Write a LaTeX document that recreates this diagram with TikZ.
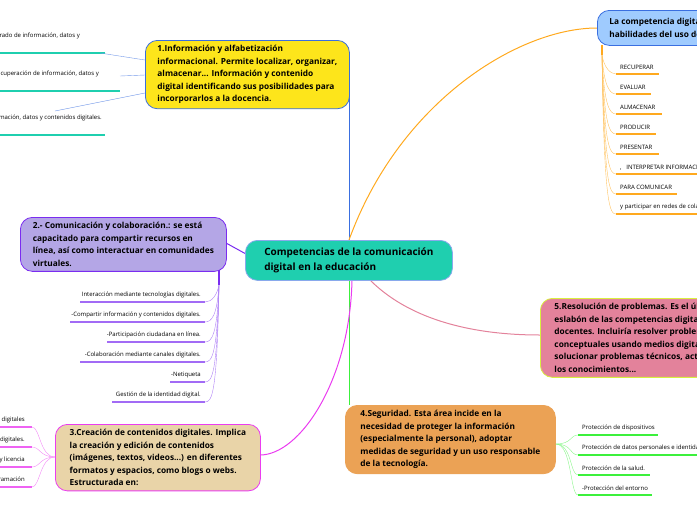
\documentclass[tikz,border=0pt]{standalone}
\usepackage{fontspec}
\setmainfont{Open Sans}
\begin{document}
\begin{tikzpicture}[x=1pt,y=-1pt,
  box/.style={rounded corners=12pt,draw,line width=0.8pt,align=left,font=\bfseries\fontsize{8.3}{12.5}\selectfont,inner xsep=12pt,inner ysep=5pt,anchor=north west},
  leaf/.style={font=\fontsize{6}{7}\selectfont,inner sep=1pt},
  ul/.style={line width=1.2pt}]
\useasboundingbox (0,0) rectangle (697,520);
\clip (0,0) rectangle (697,520);
\definecolor{cteal}{HTML}{1FCFAF}
\definecolor{cyel}{HTML}{FDE51B}
\definecolor{cblue}{HTML}{9FCBFE}
\definecolor{cpur}{HTML}{B4A6E6}
\definecolor{ctan}{HTML}{E9D4A8}
\definecolor{corg}{HTML}{EBA255}
\definecolor{cpink}{HTML}{E3829B}
\definecolor{lblue}{HTML}{3A6FE0}
\definecolor{lorg}{HTML}{FFA91E}
\definecolor{lpur}{HTML}{7A2CF0}
\definecolor{lmag}{HTML}{EA3CF0}
\definecolor{lgrn}{HTML}{3CF03C}
\definecolor{lyg}{HTML}{D8F040}

% main branches
\coordinate (ct) at (349,240); \coordinate (cb) at (349,280);
\draw[lblue,line width=1pt] (ct) -- (349,70);
\draw[lorg,line width=1pt] (ct) .. controls (400,100) and (520,28) .. (597,28);
\draw[cpink,line width=1pt] (370,280) .. controls (420,330) and (500,335) .. (540,335);
\draw[lgrn,line width=1pt] (cb) -- (349,405);
\draw[lmag,line width=1pt] (352,280) .. controls (350,380) and (300,455) .. (260,455);
\draw[lpur,line width=1pt] (246,254) -- (226,243);

\node[box,fill=cteal,draw=lblue!60,minimum width=207pt,minimum height=40pt,font=\bfseries\fontsize{10}{15}\selectfont] (c) at (245,240) {Competencias de la comunicación\\digital en la educación};
\node[box,fill=cyel,draw=lblue,minimum width=204pt,minimum height=65pt] (b1) at (145,40) {1.Información y alfabetización\\informacional. Permite localizar, organizar,\\almacenar... Información y contenido\\digital identificando sus posibilidades para\\incorporarlos a la docencia.};
\node[box,fill=cblue,draw=lblue,minimum height=35pt,text depth=0pt] (b0) at (597,10) {La competencia digital son las\\habilidades del uso de la tecnología};
\node[box,fill=cpur,draw=lpur,minimum width=206pt,minimum height=53pt] (b2) at (20,217) {2.- Comunicación y colaboración.: se está\\capacitado para compartir recursos en\\línea, así como interactuar en comunidades\\virtuales.};
\node[box,fill=ctan,draw=lmag,minimum width=205pt,minimum height=64pt] (b3) at (55,424) {3.Creación de contenidos digitales. Implica\\la creación y edición de contenidos\\(imágenes, textos, videos...) en diferentes\\formatos y espacios, como blogs o webs.\\Estructurada en:};
\node[box,fill=corg,draw=corg,minimum width=210pt,minimum height=65pt] (b4) at (345,405) {4.Seguridad. Esta área incide en la\\necesidad de proteger la información\\(especialmente la personal), adoptar\\medidas de seguridad y un uso responsable\\de la tecnología.};
\node[box,fill=cpink,draw=lyg,minimum width=200pt,minimum height=77pt] (b5) at (540,298) {5.Resolución de problemas. Es el último\\eslabón de las competencias digitales\\docentes. Incluiría resolver problemas\\conceptuales usando medios digitales,\\solucionar problemas técnicos, actualizar\\los conocimientos...};

% box1 leaves
\foreach \n/\t/\ex/\y/\ux in {
 a/{Navegación, búsqueda y filtrado de información, datos y}/81/36/105,
 b/{Almacenamiento y recuperación de información, datos y}/100/74/120,
 c/{Evaluación de información, datos y contenidos digitales.}/103/118/105}{
  \node[leaf,anchor=east] (l1\n) at (\ex,\y) {\t};
  \draw[cteal,ul] (0,\y+17) -- (\ux,\y+17);
}
\draw[lblue!70] (b1.west |- 0,60) -- (100,53);
\draw[lblue!70] (b1.west |- 0,75) -- (120,76);
\draw[lblue!70] (b1.west |- 0,93) -- (55,111);

% top-right leaves
\coordinate (tr) at (602,45);
\draw[lorg,line width=1.5pt] (tr) -- (602,55);
\foreach \t/\y/\w [count=\i] in {RECUPERAR/67/40, EVALUAR/87/32, ALMACENAR/107/43, PRODUCIR/127/37, PRESENTAR/147/40, {,\ \ \ INTERPRETAR INFORMACIÓN}/167/90, PARA COMUNICAR/187/58, y participar en redes de colaboración/207/100}{
  \node[leaf,anchor=west] (tl\i) at (619,\y) {\t};
  \draw[lorg,ul] (616,\y+7) -- (619+\w,\y+7);
  \draw[lorg!70] (602,55) .. controls (604,\y) and (610,\y+7) .. (616,\y+7);
}

% box2 leaves
\draw[lpur,line width=1.5pt] (219,270) -- (219,285);
\foreach \t/\y/\w [count=\i] in {{Interacción mediante tecnologías digitales.}/295/125, {-Compartir información y contenidos digitales.}/315/135, {-Participación ciudadana en línea.}/335/98, {-Colaboración mediante canales digitales.}/355/125, {-Netiqueta}/375/35, {Gestión de la identidad digital.}/395/93}{
  \node[leaf,anchor=east] (pl\i) at (202,\y) {\t};
  \draw[lpur!70,ul] (205-\w,\y+7) -- (205,\y+7);
  \draw[lpur!60] (219,285) .. controls (217,\y) and (212,\y+7) .. (205,\y+7);
}

% box3 leaves
\foreach \t/\y [count=\i] in {{Desarrollo de contenidos digitales}/420, {Integración y reelaboración de contenidos digitales.}/440, {Derechos de autor y licencia}/460, {Programación}/480}{
  \node[leaf,anchor=east] (ml\i) at (26,\y) {\t};
  \draw[lmag!80,ul] (0,\y+7) -- (32,\y+7);
  \draw[lmag!60] (b3.west |- 0,457) .. controls (40,457) and (40,\y+7) .. (32,\y+7);
}

% box4 leaves
\foreach \t/\y/\w [count=\i] in {{Protección de dispositivos}/428/80, {Protección de datos personales e identidad digital}/448/130, {Protección de la salud.}/468/72, {-Protección del entorno}/488/74}{
  \node[leaf,anchor=west] (gl\i) at (581,\y) {\t};
  \draw[lgrn,ul] (578,\y+7) -- (578+\w,\y+7);
  \draw[lgrn!60] (b4.east |- 0,444) .. controls (572,444) and (570,\y+7) .. (578,\y+7);
}
\end{tikzpicture}
\end{document}
